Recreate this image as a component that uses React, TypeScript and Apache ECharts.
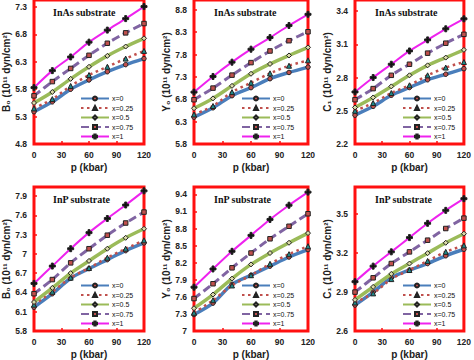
import { useEffect, useRef } from 'react';
import * as echarts from 'echarts';

// Pressure grid (kbar) at which the elastic constants were evaluated
const pressure = [0, 20, 40, 60, 80, 100, 120];
const pressureTicks = [0, 30, 60, 90, 120];
const compositions = ['x=0', 'x=0.25', 'x=0.5', 'x=0.75', 'x=1'];

// Bulk modulus B0 (10^11 dyn/cm^2), InAs substrate, one row per composition
const b0InAs = [
  [5.39, 5.57, 5.8, 5.97, 6.12, 6.25, 6.36],
  [5.45, 5.62, 5.86, 6.06, 6.21, 6.36, 6.5],
  [5.55, 5.75, 5.99, 6.21, 6.41, 6.58, 6.73],
  [5.68, 5.94, 6.18, 6.42, 6.64, 6.83, 7.0],
  [5.83, 6.14, 6.39, 6.66, 6.88, 7.09, 7.31],
];
// Young's modulus Y0, InAs substrate
const y0InAs = [
  [6.4, 6.61, 6.88, 7.06, 7.26, 7.4, 7.52],
  [6.46, 6.65, 6.96, 7.17, 7.38, 7.55, 7.67],
  [6.6, 6.82, 7.1, 7.37, 7.59, 7.78, 7.96],
  [6.79, 7.05, 7.34, 7.62, 7.88, 8.11, 8.31],
  [6.96, 7.31, 7.63, 7.92, 8.18, 8.45, 8.7],
];
// Shear constant C1, InAs substrate
const c1InAs = [
  [2.46, 2.54, 2.64, 2.71, 2.78, 2.83, 2.88],
  [2.5, 2.57, 2.66, 2.73, 2.82, 2.89, 2.94],
  [2.53, 2.62, 2.72, 2.82, 2.91, 2.98, 3.05],
  [2.6, 2.7, 2.82, 2.92, 3.02, 3.11, 3.19],
  [2.67, 2.8, 2.92, 3.04, 3.14, 3.24, 3.33],
];
// Bulk modulus B0, InP substrate
const b0InP = [
  [6.17, 6.38, 6.62, 6.77, 6.91, 7.05, 7.17],
  [6.21, 6.41, 6.63, 6.78, 6.94, 7.08, 7.21],
  [6.25, 6.47, 6.7, 6.89, 7.08, 7.25, 7.39],
  [6.38, 6.6, 6.86, 7.08, 7.29, 7.48, 7.65],
  [6.54, 6.81, 7.08, 7.33, 7.55, 7.76, 7.98],
];
// Young's modulus Y0, InP substrate
const y0InP = [
  [7.29, 7.49, 7.82, 7.98, 8.14, 8.3, 8.43],
  [7.32, 7.54, 7.8, 7.98, 8.18, 8.35, 8.49],
  [7.4, 7.64, 7.92, 8.17, 8.37, 8.55, 8.72],
  [7.57, 7.83, 8.11, 8.37, 8.62, 8.84, 9.06],
  [7.77, 8.09, 8.4, 8.68, 8.96, 9.21, 9.44],
];
// Shear constant C1, InP substrate
const c1InP = [
  [2.8, 2.9, 3.01, 3.07, 3.12, 3.18, 3.23],
  [2.82, 2.89, 3.0, 3.07, 3.14, 3.21, 3.26],
  [2.84, 2.94, 3.04, 3.12, 3.2, 3.28, 3.35],
  [2.9, 3.01, 3.12, 3.21, 3.3, 3.39, 3.47],
  [2.98, 3.1, 3.21, 3.32, 3.43, 3.53, 3.62],
];

// Y tick labels of each panel
const ticksB0InAs = [4.8, 5.3, 5.8, 6.3, 6.8, 7.3];
const ticksY0InAs = [5.8, 6.3, 6.8, 7.3, 7.8, 8.3, 8.8];
const ticksC1InAs = [2.2, 2.5, 2.8, 3.1, 3.4];
const ticksB0InP = [5.8, 6.1, 6.4, 6.7, 7, 7.3, 7.6, 7.9];
const ticksY0InP = [7, 7.3, 7.6, 7.9, 8.2, 8.5, 8.8, 9.1, 9.4];
const ticksC1InP = [2.6, 2.9, 3.2, 3.5];

const plusPath = 'path://M3.4,0H6.6V3.4H10V6.6H6.6V10H3.4V6.6H0V3.4H3.4Z';

const seriesStyles = [
  { line: '#4A7EBB', width: 3.5, type: 'solid' as any, symbol: 'circle', size: 4.5, fill: '#C0504D' },
  { line: '#C0504D', width: 2.5, type: [2.5, 3.5] as any, symbol: 'triangle', size: 5, fill: '#1F8A8A' },
  { line: '#9BBB59', width: 3.5, type: 'solid' as any, symbol: 'diamond', size: 5, fill: '#DADAA8' },
  { line: '#8064A2', width: 3, type: [8, 4] as any, symbol: 'rect', size: 4.5, fill: '#C0504D' },
  { line: '#EE22EE', width: 2, type: 'solid' as any, symbol: plusPath, size: 6, fill: '#111111' },
];

const panels = [
  { title: 'InAs substrate', yName: 'B\u2080 (10\u00b9\u00b9 dyn/cm\u00b2)', values: b0InAs, ticks: ticksB0InAs, max: 7.43, left: 33, top: 0, width: 111 },
  { title: 'InAs substrate', yName: 'Y\u2080 (10\u00b9\u00b9 dyn/cm\u00b2)', values: y0InAs, ticks: ticksY0InAs, max: 9.02, left: 194, top: 0, width: 114 },
  { title: 'InAs substrate', yName: 'C\u2081 (10\u00b9\u00b9 dyn/cm\u00b2)', values: c1InAs, ticks: ticksC1InAs, max: 3.5, left: 355, top: 0, width: 114 },
  { title: 'InP substrate', yName: 'B\u2080 (10\u00b9\u00b9 dyn/cm\u00b2)', values: b0InP, ticks: ticksB0InP, max: 8.04, left: 33, top: 187, width: 111 },
  { title: 'InP substrate', yName: 'Y\u2080 (10\u00b9\u00b9 dyn/cm\u00b2)', values: y0InP, ticks: ticksY0InP, max: 9.53, left: 194, top: 187, width: 114 },
  { title: 'InP substrate', yName: 'C\u2081 (10\u00b9\u00b9 dyn/cm\u00b2)', values: c1InP, ticks: ticksC1InP, max: 3.71, left: 355, top: 187, width: 114 },
];

const PLOT_H = 144;
const RED = '#FF1010';
const labelFont = 'Liberation Sans, Arial, sans-serif';

function buildOption() {
  const grid: any[] = [];
  const xAxis: any[] = [];
  const yAxis: any[] = [];
  const series: any[] = [];
  const title: any[] = [];
  const legend: any[] = [];

  panels.forEach((p, i) => {
    grid.push({
      left: p.left, top: p.top, width: p.width, height: PLOT_H,
      show: true, borderColor: RED, borderWidth: 3, backgroundColor: 'transparent',
    });
    xAxis.push({
      type: 'value', gridIndex: i, min: pressureTicks[0], max: pressureTicks[pressureTicks.length - 1],
      interval: pressureTicks[1] - pressureTicks[0],
      axisLine: { show: false },
      splitLine: { show: false },
      axisTick: { inside: true, length: 3, lineStyle: { color: RED, width: 1.5 } },
      axisLabel: { fontSize: 8.5, fontWeight: 'bold', color: '#222', margin: 6, fontFamily: labelFont },
      name: 'p (kbar)', nameLocation: 'middle', nameGap: 18,
      nameTextStyle: { fontSize: 10, fontWeight: 'bold', color: '#222', fontFamily: labelFont },
    });
    const step = +(p.ticks[1] - p.ticks[0]).toFixed(4);
    yAxis.push({
      type: 'value', gridIndex: i, min: p.ticks[0], max: p.max, interval: step,
      axisLine: { show: false },
      splitLine: { show: false },
      axisTick: { inside: true, length: 3, lineStyle: { color: RED, width: 1.5 } },
      axisLabel: {
        fontSize: 8.5, fontWeight: 'bold', color: '#222', margin: 7, fontFamily: labelFont,
        formatter: (v: number) => (p.ticks.some((t) => Math.abs(t - v) < 1e-6) ? String(Math.round(v * 10) / 10) : ''),
      },
      name: p.yName, nameLocation: 'middle', nameGap: 23,
      nameTextStyle: { fontSize: 10, fontWeight: 'bold', color: '#222', fontFamily: labelFont },
    });
    title.push({
      text: p.title, left: p.left + 20, top: p.top + 7, padding: 0,
      textStyle: { fontSize: 10, fontWeight: 'bold', fontFamily: 'Liberation Serif, Times New Roman, serif', color: '#111' },
    });
    legend.push({
      orient: 'vertical', left: p.left + 47, top: p.top + 95, padding: 0,
      itemWidth: 28, itemHeight: 5, itemGap: 2.5,
      data: compositions,
      selectedMode: false,
      textStyle: { fontSize: 7, color: '#111', fontFamily: labelFont, padding: [0, 0, 0, -2] },
    });
    p.values.forEach((row, j) => {
      const s = seriesStyles[j];
      series.push({
        type: 'line', name: compositions[j], xAxisIndex: i, yAxisIndex: i,
        data: pressure.map((x, k) => [x, row[k]]),
        smooth: 0.3,
        symbol: s.symbol, symbolSize: s.size, showSymbol: true,
        lineStyle: { color: s.line, width: s.width, type: s.type },
        itemStyle: { color: s.fill, borderColor: '#222', borderWidth: 1 },
        z: 2 + j,
      });
    });
  });

  return { animation: false, backgroundColor: '#ffffff', grid, xAxis, yAxis, series, title, legend };
}

export default function App() {
  const ref = useRef<HTMLDivElement>(null);
  useEffect(() => {
    if (!ref.current) return;
    const chart = echarts.init(ref.current, null, { renderer: 'svg' });
    chart.setOption(buildOption() as any);
    return () => chart.dispose();
  }, []);
  return <div ref={ref} style={{ position: 'fixed', left: 0, top: 0, width: 474, height: 360 }} />;
}
